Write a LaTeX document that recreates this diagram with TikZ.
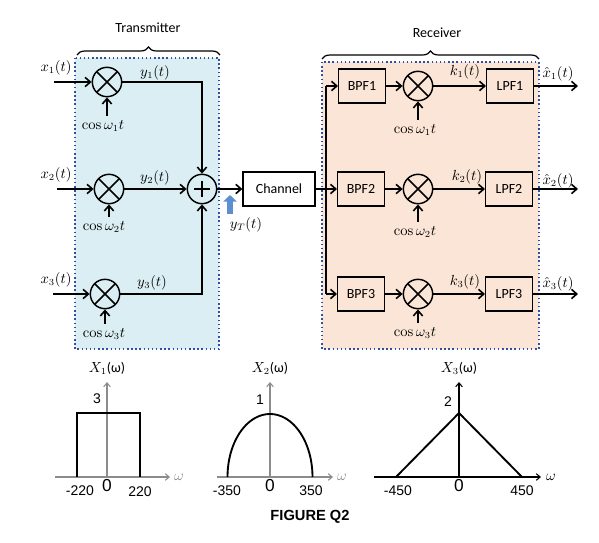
\documentclass[tikz,border=0pt]{standalone}
\usepackage{amsmath}
\usepackage[no-math]{fontspec}
\setmainfont{Carlito}
\newfontfamily\arialfont{Liberation Sans}
\usetikzlibrary{arrows.meta,decorations.pathreplacing}
\definecolor{txblue}{HTML}{DAEEF3}
\definecolor{rxpeach}{HTML}{FBE5D6}
\definecolor{dotblue}{HTML}{2F4F9F}
\definecolor{markblue}{HTML}{5B8FD0}
\definecolor{axisgray}{HTML}{8C8C8C}

\tikzset{
  every node/.style={font=\fontsize{10.5}{12}\selectfont},
  wire/.style={line width=1.2pt},
  arr/.style={wire,-{Straight Barb[length=4pt,width=7pt]}},
  mult/.style={circle,draw,line width=1.1pt,minimum size=22pt,inner sep=0pt,
    path picture={\draw[line width=1.1pt]
      (path picture bounding box.north west) -- (path picture bounding box.south east)
      (path picture bounding box.north east) -- (path picture bounding box.south west);}},
  adder/.style={circle,draw,line width=1.1pt,minimum size=22pt,inner sep=0pt,
    path picture={\draw[line width=1.1pt]
      ([xshift=-6pt]path picture bounding box.center) -- ([xshift=6pt]path picture bounding box.center)
      ([yshift=-6pt]path picture bounding box.center) -- ([yshift=6pt]path picture bounding box.center);}},
  blk/.style={draw,line width=1pt,minimum width=35pt,minimum height=25.5pt,inner sep=1pt},
  area/.style={draw=dotblue,dotted,line width=1.1pt},
  axis/.style={axisgray,line width=0.8pt,-{Straight Barb[length=3pt,width=5pt]}},
  curve/.style={line width=1.4pt},
  num/.style={font=\arialfont\fontsize{10.5}{12}\selectfont},
  zero/.style={font=\arialfont\fontsize{13}{15}\selectfont},
}

\begin{document}
\begin{tikzpicture}[x=0.75pt,y=-0.75pt]
\useasboundingbox (0,0) rectangle (599,542);

% transmitter and receiver areas
\filldraw[fill=txblue,area] (75,58) rectangle (219,349);
\filldraw[fill=rxpeach,area] (322,62) rectangle (539,349);
\draw[line width=0.9pt,decorate,decoration={brace,amplitude=6pt}] (77,55) -- (220,55);
\draw[line width=0.9pt,decorate,decoration={brace,amplitude=6pt}] (322,59) -- (539,59);
\node (tx) at (148,28) {Transmitter};
\node (rx) at (437,33) {Receiver};

% transmitter
\node[mult] (m1) at (107,82) {};
\node[mult] (m2) at (109,189) {};
\node[mult] (m3) at (105,294) {};
\node[adder] (add) at (202,189) {};
\coordinate (in1) at (54,82);
\coordinate (in2) at (57,189);
\coordinate (in3) at (53,294);
\node (x1) at (56,68) {$x_1(t)$};
\node (x2) at (56,175) {$x_2(t)$};
\node (x3) at (56,280) {$x_3(t)$};
\node (c1) at (103,126) {$\cos\omega_1 t$};
\node (c2) at (104,227) {$\cos\omega_2 t$};
\node (c3) at (104,334) {$\cos\omega_3 t$};
\node (y1) at (155,73) {$y_1(t)$};
\node (y2) at (155,178) {$y_2(t)$};
\node (y3) at (152,283) {$y_3(t)$};
\draw[arr] (in1) -- (m1);
\draw[arr] (in2) -- (m2);
\draw[arr] (in3) -- (m3);
\draw[arr] (m1|-c1.north) -- (m1.south);
\draw[arr] (m2|-c2.north) -- (m2.south);
\draw[arr] (m3|-c3.north) -- (m3.south);
\draw[arr] (m1.east) -| (add.north);
\draw[arr] (m2) -- (add);
\draw[arr] (m3.east) -| (add.south);

% channel
\node[blk,minimum width=54pt] (ch) at (279,189) {Channel};
\draw[arr] (add) -- (ch);
\coordinate (yt1) at (230,214);
\coordinate (yt2) at (230,195);
\draw[markblue,line width=4.5pt,-{Triangle[length=5pt,width=10pt]}] (yt1) -- (yt2);
\node (yt) at (246,225) {$y_T(t)$};

% receiver
\node[blk] (bpf1) at (362,86) {BPF1};
\node[blk] (bpf2) at (361,189) {BPF2};
\node[blk] (bpf3) at (361,294) {BPF3};
\node[mult] (r1) at (418,86) {};
\node[mult] (r2) at (418,189) {};
\node[mult] (r3) at (418,294) {};
\node[blk] (lpf1) at (510,86) {LPF1};
\node[blk] (lpf2) at (509,189) {LPF2};
\node[blk] (lpf3) at (509,294) {LPF3};
\node (d1) at (415,130) {$\cos\omega_1 t$};
\node (d2) at (415,232) {$\cos\omega_2 t$};
\node (d3) at (415,333) {$\cos\omega_3 t$};
\node (k1) at (465,72) {$k_1(t)$};
\node (k2) at (467,177) {$k_2(t)$};
\node (k3) at (465,282) {$k_3(t)$};
\node (o1) at (558,74) {$\hat{x}_1(t)$};
\node (o2) at (558,181) {$\hat{x}_2(t)$};
\node (o3) at (558,284) {$\hat{x}_3(t)$};
\coordinate (bus1) at (326,86);
\coordinate (bus3) at (326,294);
\coordinate (out1) at (578,86);
\coordinate (out2) at (578,189);
\coordinate (out3) at (578,294);
\draw[arr] (ch) -- (bpf2);
\draw[wire] (bus1) -- (bus3);
\draw[arr] (bus1) -- (bpf1);
\draw[arr] (bus3) -- (bpf3);
\draw[arr] (bpf1) -- (r1);
\draw[arr] (bpf2) -- (r2);
\draw[arr] (bpf3) -- (r3);
\draw[arr] (r1|-d1.north) -- (r1.south);
\draw[arr] (r2|-d2.north) -- (r2.south);
\draw[arr] (r3|-d3.north) -- (r3.south);
\draw[arr] (r1) -- (lpf1);
\draw[arr] (r2) -- (lpf2);
\draw[arr] (r3) -- (lpf3);
\draw[arr] (lpf1) -- (out1);
\draw[arr] (lpf2) -- (out2);
\draw[arr] (lpf3) -- (out3);

% spectra
\draw[axis] (55,477) -- (170,477);
\draw[axis] (107,477) -- (107,382);
\draw[curve] (77,477) -- (77,413) -- (140,413) -- (140,477);
\node (X1) at (107,368) {$X_1$(ω)};
\node[axisgray] at (179,477) {$\mathit{\omega}$};
\node[num] at (97,399) {3};
\node[num] at (80,491) {-220};
\node[zero] at (107,486) {0};
\node[num] at (140,492) {220};

\draw[axis] (217,477) -- (333,477);
\draw[axis] (270,477) -- (270,382);
\draw[curve] plot[domain=180:360,samples=50,smooth] ({270+42.5*cos(\x)},{477+63*sin(\x)});
\node (X2) at (270,368) {$X_2$(ω)};
\node[axisgray] at (342,477) {$\mathit{\omega}$};
\node[num] at (260,400) {1};
\node[num] at (227,491) {-350};
\node[zero] at (270,486) {0};
\node[num] at (311,491) {350};

\draw[axis,black] (374,477) -- (541,477);
\draw[axis,black] (459,477) -- (459,382);
\draw[curve] (396,477) -- (459,413) -- (522,477);
\node (X3) at (459,368) {$X_3$(ω)};
\node at (551,477) {$\omega$};
\node[num] at (448,402) {2};
\node[num] at (398,491) {-450};
\node[zero] at (459,486) {0};
\node[num] at (522,491) {450};

\node[font=\arialfont\bfseries\fontsize{11}{13}\selectfont] (fig) at (310,517) {FIGURE Q2};
\end{tikzpicture}
\end{document}
